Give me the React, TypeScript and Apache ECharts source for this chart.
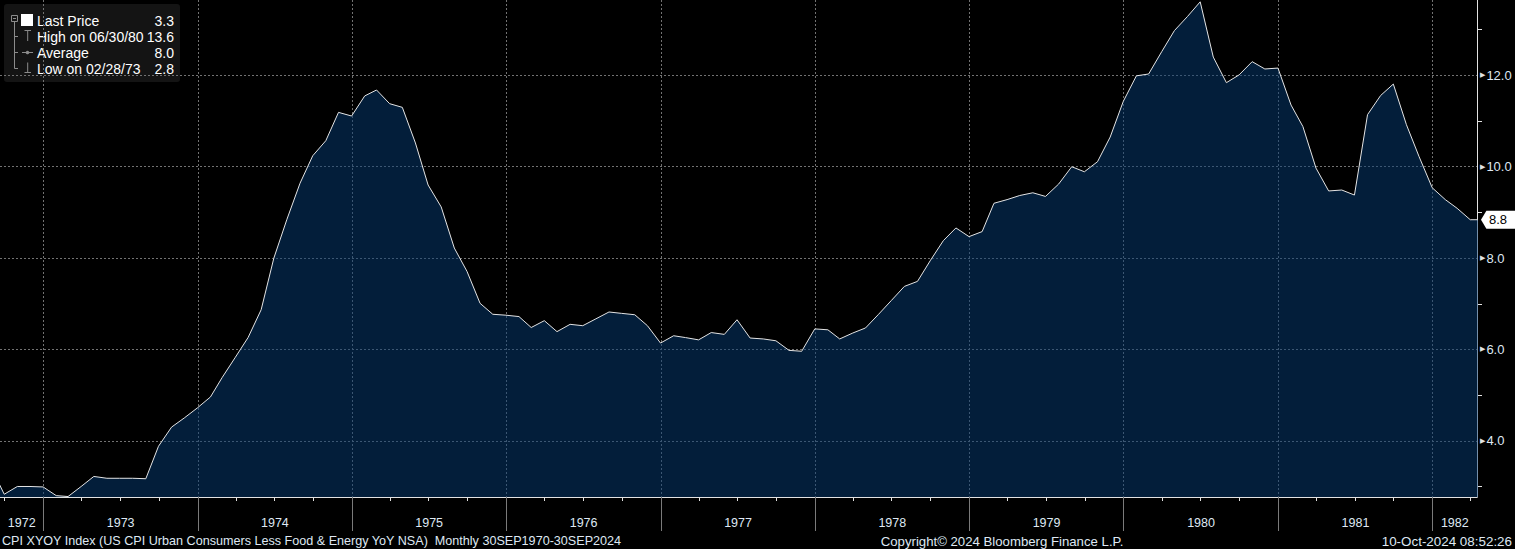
import React, { useEffect, useRef } from "react";
import * as echarts from "echarts";

// ---- Data (CPI XYOY, month-end values, %) ----
const cpi1972 = [3.4, 2.83, 3.0, 3.0, 2.99]; // Aug–Dec
const cpi1973 = [2.8, 2.78, 3.0, 3.22, 3.18, 3.18, 3.18, 3.17, 3.88, 4.3, 4.5, 4.72];
const cpi1974 = [4.96, 5.39, 5.83, 6.26, 6.87, 8.0, 8.85, 9.64, 10.24, 10.57, 11.19, 11.11];
const cpi1975 = [11.55, 11.68, 11.38, 11.3, 10.52, 9.6, 9.12, 8.22, 7.71, 7.01, 6.77, 6.75];
const cpi1976 = [6.72, 6.48, 6.63, 6.39, 6.55, 6.52, 6.67, 6.82, 6.79, 6.76, 6.52, 6.14];
const cpi1977 = [6.3, 6.26, 6.21, 6.37, 6.33, 6.65, 6.25, 6.23, 6.19, 5.98, 5.96, 6.45];
const cpi1978 = [6.43, 6.23, 6.36, 6.47, 6.77, 7.07, 7.38, 7.49, 7.94, 8.38, 8.66, 8.47];
const cpi1979 = [8.58, 9.2, 9.28, 9.37, 9.43, 9.35, 9.62, 10.0, 9.89, 10.11, 10.65, 11.43];
const cpi1980 = [11.99, 12.03, 12.52, 12.98, 13.29, 13.61, 12.4, 11.84, 12.01, 12.3, 12.14, 12.16];
const cpi1981 = [11.35, 10.88, 9.97, 9.47, 9.49, 9.38, 11.14, 11.56, 11.81, 10.92, 10.22, 9.54];
const cpi1982 = [9.28, 9.09, 8.84, 8.84]; // Jan–Apr

const yearBlocks = [
  { year: 1972, firstMonth: 8, values: cpi1972 },
  { year: 1973, firstMonth: 1, values: cpi1973 },
  { year: 1974, firstMonth: 1, values: cpi1974 },
  { year: 1975, firstMonth: 1, values: cpi1975 },
  { year: 1976, firstMonth: 1, values: cpi1976 },
  { year: 1977, firstMonth: 1, values: cpi1977 },
  { year: 1978, firstMonth: 1, values: cpi1978 },
  { year: 1979, firstMonth: 1, values: cpi1979 },
  { year: 1980, firstMonth: 1, values: cpi1980 },
  { year: 1981, firstMonth: 1, values: cpi1981 },
  { year: 1982, firstMonth: 1, values: cpi1982 },
];

const xMin = Date.UTC(1972, 8, 20);
const xMax = Date.UTC(1982, 3, 16);
const yMin = 2.77;
const yMax = 13.65;
const yMajorTicks = [4, 6, 8, 10, 12];
const yMinorTicks = [3, 5, 7, 9, 11, 13];
const labelYears = [1972, 1973, 1974, 1975, 1976, 1977, 1978, 1979, 1980, 1981, 1982];

const legendLabels = ["Last Price", "High on 06/30/80", "Average", "Low on 02/28/73"];
const legendValues = ["3.3", "13.6", "8.0", "2.8"];

const footerLeft =
  "CPI XYOY Index (US CPI Urban Consumers Less Food & Energy YoY NSA)  Monthly 30SEP1970-30SEP2024";
const footerCenter = "Copyright\u00A9 2024 Bloomberg Finance L.P.";
const footerRight = "10-Oct-2024 08:52:26";

// ---- derived ----
const seriesData = yearBlocks.flatMap((b) =>
  b.values.map((v, i) => [Date.UTC(b.year, b.firstMonth - 1 + i + 1, 0), v])
);
const lastValue = cpi1982[cpi1982.length - 1];

const yearStarts = labelYears
  .map((y) => Date.UTC(y, 0, 1))
  .filter((t) => t > xMin && t < xMax);
const quarterStarts = labelYears
  .flatMap((y) => [3, 6, 9].map((m) => Date.UTC(y, m, 1)))
  .filter((t) => t > xMin && t < xMax);
const yearLabelPositions = labelYears.map((y) => {
  const a = Math.max(Date.UTC(y, 0, 1), xMin);
  const b = Math.min(Date.UTC(y + 1, 0, 1), xMax);
  return (a + b) / 2;
});

const FONT = '"Liberation Sans", Arial, sans-serif';
const TEXT_COLOR = "#dfe8f3";
const GRID_COLOR = "#727272";
const AXIS_COLOR = "#e2e2e2";
const TREE_COLOR = "#8c8c8c";

const rowY = [20.5, 36.5, 52.5, 68.5];

function buildLegend() {
  const children: any[] = [
    { type: "rect", shape: { x: 4, y: 4, width: 176, height: 78, r: 3 }, style: { fill: "#141414" } },
    // tree icon
    { type: "rect", shape: { x: 11.5, y: 15.5, width: 6, height: 6 }, style: { fill: "none", stroke: TREE_COLOR, lineWidth: 1 } },
    { type: "line", shape: { x1: 13, y1: 18.5, x2: 16, y2: 18.5 }, style: { stroke: TREE_COLOR, lineWidth: 1 } },
    { type: "line", shape: { x1: 14.5, y1: 22, x2: 14.5, y2: 68.5 }, style: { stroke: TREE_COLOR, lineWidth: 1 } },
    { type: "line", shape: { x1: 14.5, y1: 36.5, x2: 18, y2: 36.5 }, style: { stroke: TREE_COLOR, lineWidth: 1 } },
    { type: "line", shape: { x1: 14.5, y1: 52.5, x2: 18, y2: 52.5 }, style: { stroke: TREE_COLOR, lineWidth: 1 } },
    { type: "line", shape: { x1: 14.5, y1: 68.5, x2: 18, y2: 68.5 }, style: { stroke: TREE_COLOR, lineWidth: 1 } },
    // last price square
    { type: "rect", shape: { x: 21, y: 14, width: 12, height: 12 }, style: { fill: "#ffffff" } },
    // high marker
    { type: "line", shape: { x1: 24.5, y1: 30.5, x2: 31, y2: 30.5 }, style: { stroke: TREE_COLOR, lineWidth: 1 } },
    { type: "line", shape: { x1: 27.7, y1: 30.5, x2: 27.7, y2: 41 }, style: { stroke: TREE_COLOR, lineWidth: 1 } },
    // average marker
    { type: "line", shape: { x1: 22, y1: 52.5, x2: 33, y2: 52.5 }, style: { stroke: TREE_COLOR, lineWidth: 1 } },
    { type: "circle", shape: { cx: 27.5, cy: 52.5, r: 1.8 }, style: { fill: TREE_COLOR } },
    // low marker
    { type: "line", shape: { x1: 27.7, y1: 62.5, x2: 27.7, y2: 72.5 }, style: { stroke: TREE_COLOR, lineWidth: 1 } },
    { type: "line", shape: { x1: 24.5, y1: 72.5, x2: 31, y2: 72.5 }, style: { stroke: TREE_COLOR, lineWidth: 1 } },
  ];
  legendLabels.forEach((lab, i) => {
    children.push({
      type: "text",
      x: 37,
      y: rowY[i],
      style: { text: lab, fill: "#ffffff", font: `14px ${FONT}`, align: "left", verticalAlign: "middle" },
    });
    children.push({
      type: "text",
      x: 174,
      y: rowY[i],
      style: { text: legendValues[i], fill: "#ffffff", font: `14px ${FONT}`, align: "right", verticalAlign: "middle" },
    });
  });
  return { type: "group", x: 0, y: 0, z: 100, children };
}

const option: any = {
  animation: false,
  backgroundColor: "#000000",
  grid: { left: 0, right: 38, top: 0, bottom: 52, containLabel: false, outerBoundsMode: "none" },
  xAxis: [
    {
      type: "value",
      position: "bottom",
      min: xMin,
      max: xMax,
      axisLine: { show: true, onZero: false, lineStyle: { color: AXIS_COLOR, width: 1 } },
      axisTick: { show: true, customValues: yearStarts, length: 34, lineStyle: { color: "#7a7a7a", width: 1 } },
      splitLine: { show: true, lineStyle: { color: GRID_COLOR, type: [2, 2], width: 1 } },
      axisLabel: {
        show: true,
        customValues: yearLabelPositions,
        margin: 19,
        color: TEXT_COLOR,
        fontFamily: FONT,
        fontSize: 12.5,
        formatter: (v: number) => String(new Date(v).getUTCFullYear()),
      },
    },
    {
      type: "value",
      position: "bottom",
      min: xMin,
      max: xMax,
      axisLine: { show: false },
      axisTick: { show: true, customValues: quarterStarts, length: 4, lineStyle: { color: AXIS_COLOR, width: 1 } },
      splitLine: { show: false },
      axisLabel: { show: false },
    },
  ],
  yAxis: [
    {
      type: "value",
      position: "right",
      min: yMin,
      max: yMax,
      axisLine: { show: true, lineStyle: { color: AXIS_COLOR, width: 1 } },
      axisTick: { show: false, customValues: yMajorTicks },
      splitLine: { show: true, lineStyle: { color: GRID_COLOR, type: [2, 2], width: 1 } },
      axisLabel: {
        show: true,
        customValues: yMajorTicks,
        margin: 3,
        formatter: (v: number) => `{t|\u25B6}{v|${v.toFixed(1)}}`,
        rich: {
          t: { fontSize: 7, color: AXIS_COLOR, padding: [0, 1, 0, 0], fontFamily: "DejaVu Sans" },
          v: { fontSize: 13, color: TEXT_COLOR, fontFamily: FONT },
        },
      },
    },
    {
      type: "value",
      position: "right",
      min: yMin,
      max: yMax,
      axisLine: { show: false },
      axisTick: { show: true, customValues: yMinorTicks, length: 5, lineStyle: { color: AXIS_COLOR, width: 1 } },
      splitLine: { show: false },
      axisLabel: { show: false },
    },
  ],
  series: [
    {
      type: "line",
      xAxisIndex: 0,
      yAxisIndex: 0,
      data: seriesData,
      symbol: "none",
      clip: true,
      lineStyle: { color: "#e4e4e4", width: 1 },
      areaStyle: { color: "rgb(6,60,116)", opacity: 0.5, origin: "start" },
      markPoint: {
        silent: true,
        symbol: "path://M0,9L6,0L40,0L40,18L6,18Z",
        symbolSize: [36, 18],
        symbolKeepAspect: false,
        symbolOffset: [22, 0],
        itemStyle: { color: "#ffffff" },
        label: {
          show: true,
          color: "#000000",
          fontFamily: FONT,
          fontSize: 13,
          offset: [-1, 0],
          formatter: (p: any) => Number(p.value).toFixed(1),
        },
        data: [{ coord: [xMax, lastValue], value: lastValue }],
      },
    },
  ],
  graphic: [
    buildLegend(),
    {
      type: "text",
      x: 2,
      y: 541,
      z: 100,
      style: { text: footerLeft, fill: TEXT_COLOR, font: `12.6px ${FONT}`, align: "left", verticalAlign: "middle" },
    },
    {
      type: "text",
      x: 1002,
      y: 541,
      z: 100,
      style: { text: footerCenter, fill: TEXT_COLOR, font: `13.2px ${FONT}`, align: "center", verticalAlign: "middle" },
    },
    {
      type: "text",
      x: 1512,
      y: 541,
      z: 100,
      style: { text: footerRight, fill: TEXT_COLOR, font: `13.4px ${FONT}`, align: "right", verticalAlign: "middle" },
    },
  ],
};

export default function App() {
  const ref = useRef<HTMLDivElement>(null);
  useEffect(() => {
    document.body.style.margin = "0";
    const chart = echarts.init(ref.current!, null, { renderer: "svg" });
    chart.setOption(option);
    return () => chart.dispose();
  }, []);
  return (
    <div
      ref={ref}
      style={{ width: 1515, height: 549, position: "fixed", left: 0, top: 0, background: "#000" }}
    />
  );
}
